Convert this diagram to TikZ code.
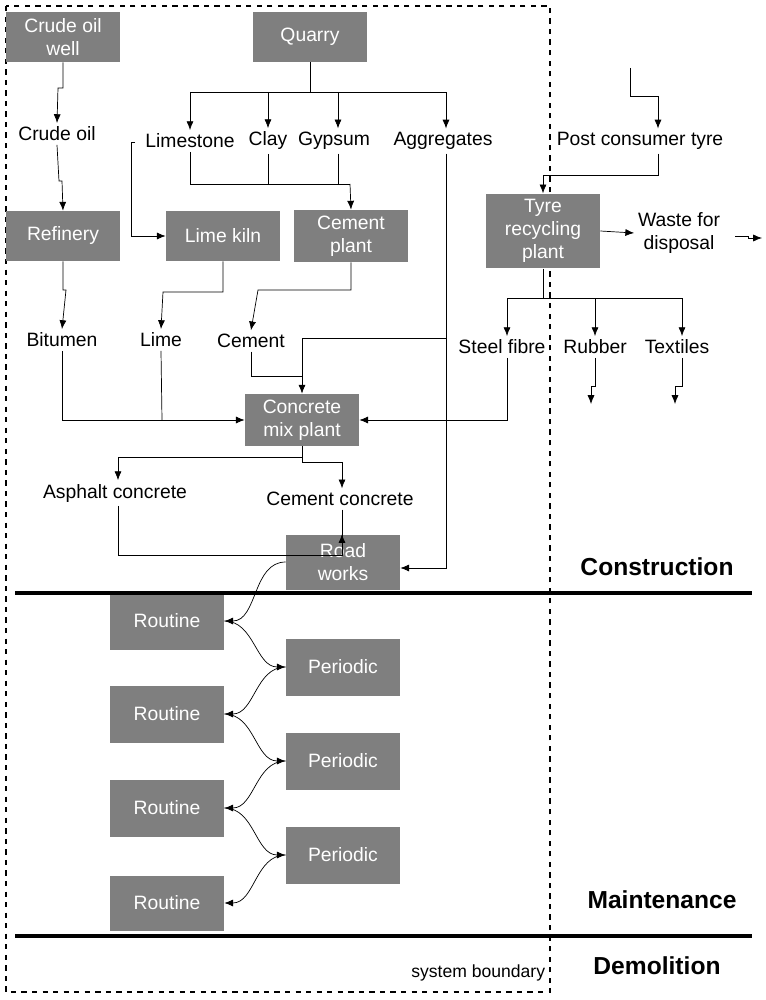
\documentclass[tikz,border=0pt]{standalone}
\usepackage{fontspec}
\setmainfont{Liberation Sans}
\usetikzlibrary{arrows.meta}
\definecolor{boxgray}{HTML}{7F7F7F}
\tikzstyle{unit} = [rectangle, minimum width=2.28cm, minimum height=1cm, align=center, text=white, fill=boxgray, font=\fontsize{11}{13}\selectfont]
\tikzstyle{item} = [inner sep=2pt, align=center, font=\fontsize{11}{13}\selectfont]
\tikzstyle{phase} = [inner sep=0pt, font=\fontsize{14}{16}\selectfont\bfseries]
\tikzstyle{flow} = [-{Latex[length=5pt,width=4pt]}]
\tikzstyle{curl} = [flow, out=180, in=0]

\begin{document}
\begin{tikzpicture}[x=0.02cm,y=-0.02cm]
\useasboundingbox (0,0) rectangle (765,1000);
\draw [dashed, thick] (6,6) rectangle (550,992);

% extraction and processing
\node (well) [unit] at (63,37) {Crude oil\\well};
\node (quarry) [unit] at (310,37) {Quarry};
\node (crude) [item] at (57,134) {Crude oil};
\node (limestone) [item] at (190,141) {Limestone};
\node (clay) [item] at (268,141) {Clay};
\node (gypsum) [item] at (334,141) {Gypsum};
\node (aggr) [item] at (443,141) {Aggregates};
\node (refinery) [unit] at (63,236) {Refinery};
\node (kiln) [unit] at (223,236) {Lime kiln};
\node (cplant) [unit] at (351,236) {Cement\\plant};
\node (bitumen) [item] at (62,340) {Bitumen};
\node (lime) [item] at (161,340) {Lime};
\node (cement) [item] at (251,341) {Cement};
\node (mix) [unit] at (302,420) {Concrete\\mix plant};
\node (asphalt) [item] at (115,493) {Asphalt concrete};
\node (ccon) [item] at (340,499) {Cement concrete};
\node (road) [unit, minimum height=1.1cm] at (343,562) {Road\\works};
%
\node (post) [item] at (640,141) {Post consumer tyre};
\coordinate (tyrein) at (630,68);
\node (tyre) [unit, minimum height=1.46cm] at (543,231) {Tyre\\recycling\\plant};
\node (waste) [item] at (679,233) {Waste for\\disposal};
\coordinate (wasteout) at (762,238);
\node (steel) [item] at (502,347) {Steel fibre};
\node (rubber) [item] at (595,347) {Rubber};
\node (textile) [item] at (677,347) {Textiles};
\coordinate (rubberout) at (591,404);
\coordinate (textileout) at (675,404);

% maintenance
\node (r1) [unit, minimum height=1.14cm] at (167,621) {Routine};
\node (p1) [unit, minimum height=1.14cm] at (343,667) {Periodic};
\node (r2) [unit, minimum height=1.14cm] at (167,714) {Routine};
\node (p2) [unit, minimum height=1.14cm] at (343,761) {Periodic};
\node (r3) [unit, minimum height=1.14cm] at (167,808) {Routine};
\node (p3) [unit, minimum height=1.14cm] at (343,855) {Periodic};
\node (r4) [unit, minimum height=1.1cm] at (167,903) {Routine};

\node (constr) [phase] at (657,567) {Construction};
\node (maint) [phase] at (662,900) {Maintenance};
\node (demol) [phase] at (657,966) {Demolition};
\node (sysb) [item, anchor=east, font=\fontsize{10}{12}\selectfont] at (549,973) {system boundary};
\draw [line width=2pt] (15,593) -- (752,593);
\draw [line width=2pt] (15,936) -- (752,936);

% connectors
\draw [flow] (well.south) -- (63,88) -- (58,88) -- (crude.north);
\draw [flow] (crude.south) -- (59,181) -- (62,181) -- (refinery.north);
\draw (quarry.south) -- (310,92);
\draw [flow] (190,92) -- (limestone.north);
\draw [flow] (268,92) -- (clay.north);
\draw [flow] (338,92) -- (gypsum.north -| 338,0);
\draw [flow] (190,92) -| (aggr.north -| 446,0);
\draw (limestone.south) -- (190,184) -- (350,184);
\draw (clay.south) -- (268,184);
\draw (gypsum.south -| 338,0) -- (338,184);
\draw [flow] (350,184) -- (cplant.north);
\draw [flow] (135,142) -- (131,142) |- (kiln.west);
\draw [flow] (refinery.south) -- (63,290) -- (66,290) -- (bitumen.north);
\draw [flow] (kiln.south) -- (223,292) -- (163,292) -- (lime.north);
\draw [flow] (cplant.south) -- (351,290) -- (258,290) -- (cement.north);
\draw [flow] (bitumen.south) |- (mix.west);
\draw (lime.south) -- (162,420);
\draw [flow] (cement.south) |- (302,376) -- (mix.north);
\draw (446,338) -| (302,376);
\draw [flow] (aggr.south -| 446,0) -- (446,568) -- (road.east |- 0,568);
\draw [flow] (steel.south -| 507,0) |- (mix.east);
\draw [flow] (mix.south) -- (302,457) -| (asphalt.north -| 118,0);
\draw [flow] (302,457) -- (302,462) -| (ccon.north -| 342,0);
\draw [flow] (asphalt.south -| 118,0) |- (342,555) -- (road.north -| 342,0);
\draw (ccon.south -| 342,0) -- (342,555);
%
\draw [flow] (tyrein) -- (630,96) -- (658,96) -- (post.north -| 658,0);
\draw [flow] (post.south -| 658,0) |- (543,175) -- (tyre.north);
\draw [flow] (tyre.east) -- (waste.west);
\draw [flow] (735,236) -- (748,236) -- (748,238) -- (wasteout);
\draw (tyre.south) -- (543,298);
\draw [flow] (507,298) -| (steel.north -| 507,0);
\draw [flow] (507,298) -| (rubber.north);
\draw [flow] (507,298) -| (textile.north -| 682,0);
\draw [flow] (rubber.south) -- (595,386) -- (591,386) -- (rubberout);
\draw [flow] (textile.south -| 682,0) -- (682,386) -- (675,386) -- (textileout);
%
\draw [curl] (road.west) to (r1.east);
\draw [curl, out=0, in=180] (r1.east) to (p1.west);
\draw [curl] (p1.west) to (r2.east);
\draw [curl, out=0, in=180] (r2.east) to (p2.west);
\draw [curl] (p2.west) to (r3.east);
\draw [curl, out=0, in=180] (r3.east) to (p3.west);
\draw [curl] (p3.west) to (r4.east);
\end{tikzpicture}
\end{document}
